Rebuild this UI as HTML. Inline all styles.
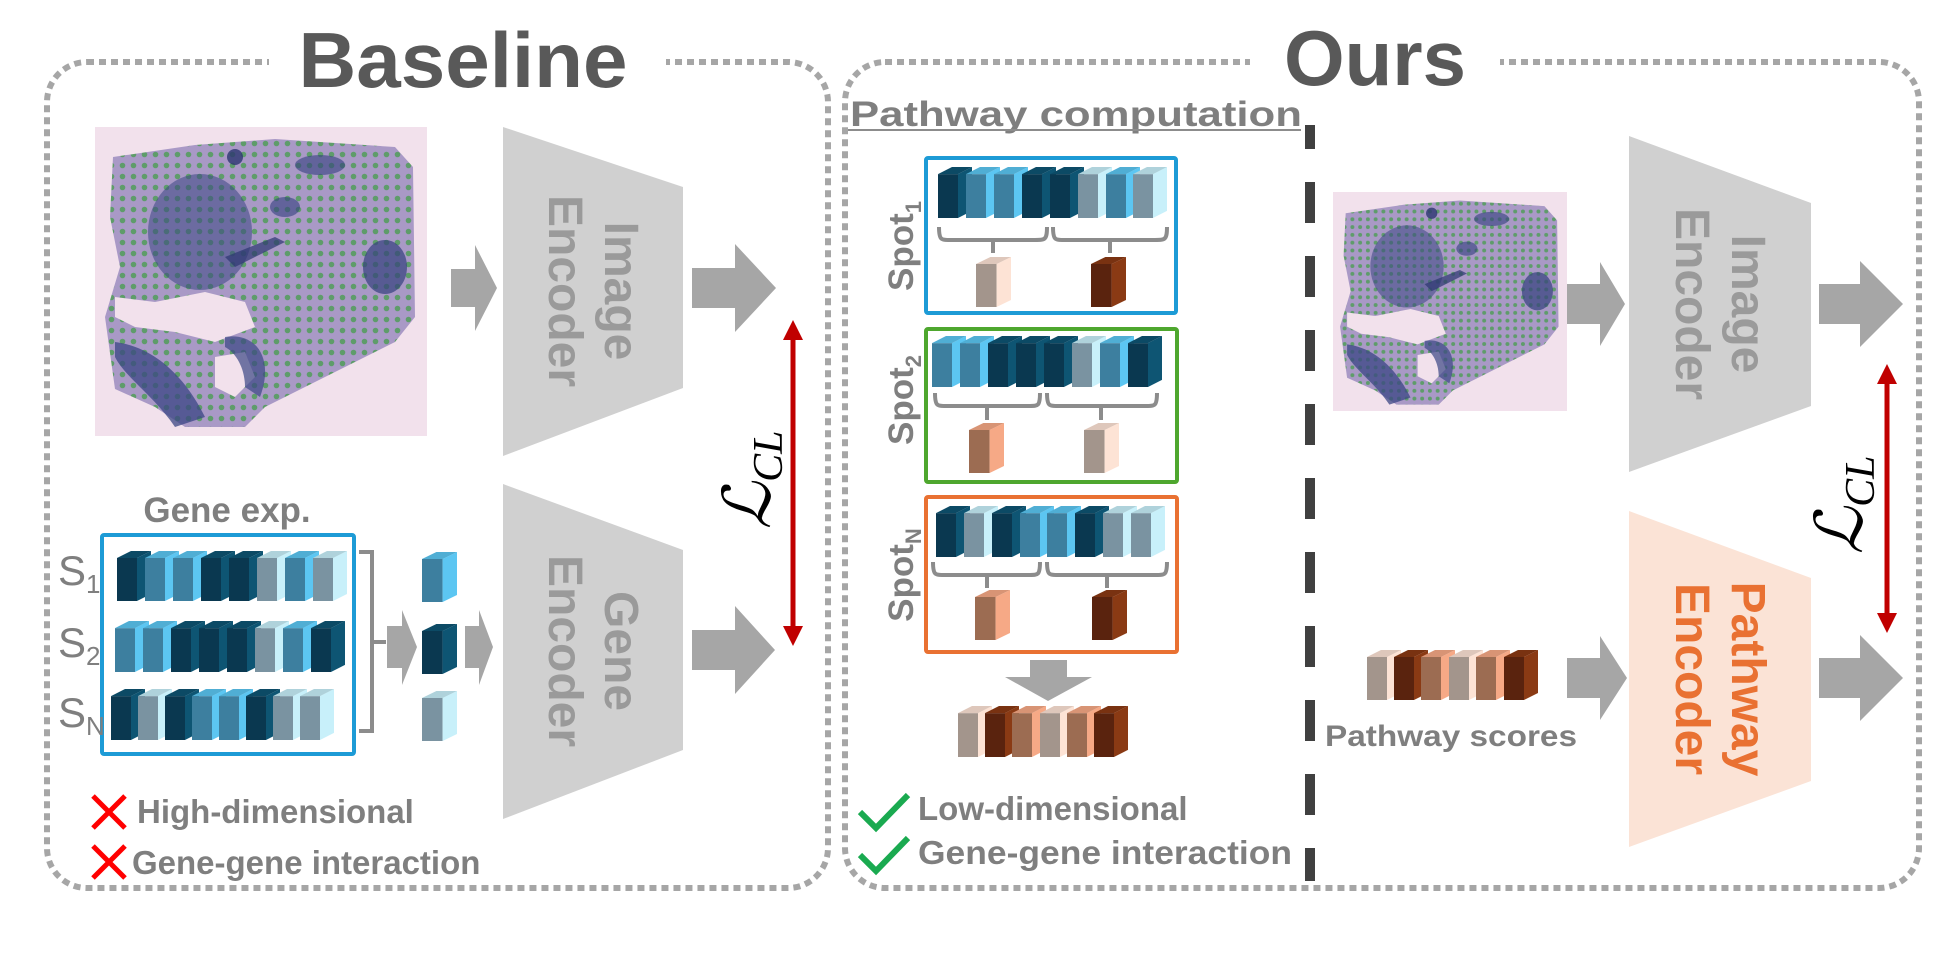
<!DOCTYPE html>
<html><head><meta charset="utf-8"><style>
html,body{margin:0;padding:0;background:#fff;width:1944px;height:968px;overflow:hidden}
svg{display:block}
text{font-family:"Liberation Sans",sans-serif}
</style></head><body>
<svg width="1944" height="968" viewBox="0 0 1944 968" xmlns="http://www.w3.org/2000/svg">
<defs>
<symbol id="cube" viewBox="0 0 34 50" preserveAspectRatio="none">
<rect x="0" y="7" width="20" height="43"/>
<polygon points="20,7 34,0 34,43 20,50" fill="currentColor"/>
<polygon points="0,7 14,0 34,0 20,7" fill="currentColor"/>
<polygon points="0,7 14,0 34,0 20,7" fill="#000" opacity="0.12"/>
</symbol>
<pattern id="dots" width="11" height="11" patternUnits="userSpaceOnUse">
<rect width="11" height="11" fill="#a999c6"/>
<circle cx="5.5" cy="5.5" r="2.8" fill="#5e9c6a"/>
</pattern>
<symbol id="histo" viewBox="0 0 332 309" preserveAspectRatio="none">
<rect width="332" height="309" fill="#f2e1ec"/>
<polygon points="18,30 100,18 180,12 300,20 318,40 320,190 300,215 250,240 200,265 170,280 150,300 90,300 60,280 20,262 10,190 25,140 15,90" fill="url(#dots)"/>
<polygon points="20,170 60,175 110,165 150,175 160,200 120,215 80,205 40,200 20,190" fill="#f2e1ec"/>
<polygon points="120,230 150,225 160,250 140,270 120,260" fill="#f2e1ec"/>
<ellipse cx="105" cy="105" rx="52" ry="58" fill="#3b4684" opacity="0.55"/>
<ellipse cx="290" cy="140" rx="22" ry="27" fill="#34407e" opacity="0.7"/>
<ellipse cx="225" cy="38" rx="25" ry="10" fill="#34407e" opacity="0.6"/>
<ellipse cx="140" cy="30" rx="8" ry="8" fill="#2c3670" opacity="0.8"/>
<ellipse cx="190" cy="80" rx="15" ry="10" fill="#34407e" opacity="0.6"/>
<path d="M20,215 C60,220 90,250 110,290 L80,300 C60,270 30,250 20,230Z" fill="#3b4684" opacity="0.75"/>
<path d="M130,210 C160,205 180,230 165,270 L150,260 C150,240 140,225 130,220Z" fill="#3b4684" opacity="0.7"/>
<path d="M130,130 L180,110 L190,115 L140,140Z" fill="#2c3670" opacity="0.7"/>
</symbol>
</defs>

<!-- dotted boxes -->
<rect x="47" y="62" width="781" height="826" rx="40" fill="none" stroke="#a6a6a6" stroke-width="6" stroke-dasharray="7 5"/>
<rect x="845" y="62" width="1074" height="826" rx="40" fill="none" stroke="#a6a6a6" stroke-width="6" stroke-dasharray="7 5"/>
<rect x="269" y="40" width="397" height="40" fill="#fff"/>
<rect x="1250" y="40" width="250" height="40" fill="#fff"/>
<text x="463" y="87" text-anchor="middle" font-size="78" font-weight="bold" fill="#595959" textLength="329" lengthAdjust="spacingAndGlyphs">Baseline</text>
<text x="1375" y="85" text-anchor="middle" font-size="78" font-weight="bold" fill="#595959" textLength="182" lengthAdjust="spacingAndGlyphs">Ours</text>

<!-- Baseline -->
<use href="#histo" x="95" y="127" width="332" height="309"/>
<polygon points="503,127 683,187 683,388 503,456" fill="#d0d0d0"/>
<polygon points="503,484 683,550 683,750 503,819" fill="#d0d0d0"/>
<g font-size="48" font-weight="bold" fill="#9a9a9a" text-anchor="middle">
<text transform="translate(593,291) rotate(90)"><tspan x="0" y="-12">Image</tspan><tspan x="0" y="44">Encoder</tspan></text>
<text transform="translate(593,651) rotate(90)"><tspan x="0" y="-12">Gene</tspan><tspan x="0" y="44">Encoder</tspan></text>
</g>
<g fill="#a6a6a6">
<polygon points="451,269 475,269 475,245 497,288 475,331 475,307 451,307"/>
<polygon points="692,268 735,268 735,244 776,288 735,332 735,308 692,308"/>
<polygon points="387,626 402,626 402,610 417,647 402,685 402,668 387,668"/>
<polygon points="465,626 479,626 479,610 493,647 479,685 479,668 465,668"/>
<polygon points="692,630 735,630 735,606 775,650 735,694 735,670 692,670"/>
</g>
<!-- red arrow -->
<g stroke="#c00000" fill="#c00000">
<line x1="793" y1="334" x2="793" y2="632" stroke-width="5"/>
<polygon points="793,320 783,340 803,340" stroke="none"/>
<polygon points="793,646 783,626 803,626" stroke="none"/>
<line x1="1887" y1="378" x2="1887" y2="619" stroke-width="5"/>
<polygon points="1887,364 1877,384 1897,384" stroke="none"/>
<polygon points="1887,633 1877,613 1897,613" stroke="none"/>
</g>
<text transform="translate(770,480) rotate(-90)" text-anchor="middle" font-family="'DejaVu Serif','Liberation Serif',serif" font-style="italic" font-size="66" fill="#000">ℒ<tspan font-family="'Liberation Serif',serif" font-size="42" dy="12">CL</tspan></text>
<text transform="translate(1862,505) rotate(-90)" text-anchor="middle" font-family="'DejaVu Serif','Liberation Serif',serif" font-style="italic" font-size="66" fill="#000">ℒ<tspan font-family="'Liberation Serif',serif" font-size="42" dy="12">CL</tspan></text>

<text x="227" y="522" text-anchor="middle" font-size="35" font-weight="bold" fill="#7f7f7f">Gene exp.</text>
<rect x="102" y="535" width="252" height="219" fill="none" stroke="#1d9bd6" stroke-width="4" rx="2"/>
<g font-size="42" fill="#7f7f7f">
<text x="58" y="585">S<tspan font-size="26" dy="8">1</tspan></text>
<text x="58" y="657">S<tspan font-size="26" dy="8">2</tspan></text>
<text x="58" y="727">S<tspan font-size="26" dy="8">N</tspan></text>
</g>
<path d="M359,552 H372 V731 H359 M372,642 H386" fill="none" stroke="#8c8c8c" stroke-width="4"/>
<!-- gene rows: D fill #0a3850 col #0e5573; M #3d7f9f/#5cc6f2; L #7a93a1/#c8f0fa -->
<g>
<use href="#cube" x="117" y="551" width="34" height="50" fill="#0a3850" color="#0e5573"/>
<use href="#cube" x="145" y="551" width="34" height="50" fill="#3d7f9f" color="#5cc6f2"/>
<use href="#cube" x="173" y="551" width="34" height="50" fill="#3d7f9f" color="#5cc6f2"/>
<use href="#cube" x="201" y="551" width="34" height="50" fill="#0a3850" color="#0e5573"/>
<use href="#cube" x="229" y="551" width="34" height="50" fill="#0a3850" color="#0e5573"/>
<use href="#cube" x="257" y="551" width="34" height="50" fill="#7a93a1" color="#c8f0fa"/>
<use href="#cube" x="285" y="551" width="34" height="50" fill="#3d7f9f" color="#5cc6f2"/>
<use href="#cube" x="313" y="551" width="34" height="50" fill="#7a93a1" color="#c8f0fa"/>

<use href="#cube" x="115" y="621" width="34" height="51" fill="#3d7f9f" color="#5cc6f2"/>
<use href="#cube" x="143" y="621" width="34" height="51" fill="#3d7f9f" color="#5cc6f2"/>
<use href="#cube" x="171" y="621" width="34" height="51" fill="#0a3850" color="#0e5573"/>
<use href="#cube" x="199" y="621" width="34" height="51" fill="#0a3850" color="#0e5573"/>
<use href="#cube" x="227" y="621" width="34" height="51" fill="#0a3850" color="#0e5573"/>
<use href="#cube" x="255" y="621" width="34" height="51" fill="#7a93a1" color="#c8f0fa"/>
<use href="#cube" x="283" y="621" width="34" height="51" fill="#3d7f9f" color="#5cc6f2"/>
<use href="#cube" x="311" y="621" width="34" height="51" fill="#0a3850" color="#0e5573"/>

<use href="#cube" x="111" y="689" width="34" height="51" fill="#0a3850" color="#0e5573"/>
<use href="#cube" x="138" y="689" width="34" height="51" fill="#7a93a1" color="#c8f0fa"/>
<use href="#cube" x="165" y="689" width="34" height="51" fill="#0a3850" color="#0e5573"/>
<use href="#cube" x="192" y="689" width="34" height="51" fill="#3d7f9f" color="#5cc6f2"/>
<use href="#cube" x="219" y="689" width="34" height="51" fill="#3d7f9f" color="#5cc6f2"/>
<use href="#cube" x="246" y="689" width="34" height="51" fill="#0a3850" color="#0e5573"/>
<use href="#cube" x="273" y="689" width="34" height="51" fill="#7a93a1" color="#c8f0fa"/>
<use href="#cube" x="300" y="689" width="34" height="51" fill="#7a93a1" color="#c8f0fa"/>

<use href="#cube" x="422" y="552" width="35" height="50" fill="#3d7f9f" color="#5cc6f2"/>
<use href="#cube" x="422" y="624" width="35" height="50" fill="#0a3850" color="#0e5573"/>
<use href="#cube" x="422" y="691" width="35" height="50" fill="#7a93a1" color="#c8f0fa"/>
</g>
<g stroke="#ff0000" stroke-width="5">
<path d="M93,796 L125,828 M125,796 L93,828"/>
<path d="M93,846 L125,878 M125,846 L93,878"/>
</g>
<text x="137" y="823" font-size="33" font-weight="bold" fill="#7f7f7f">High-dimensional</text>
<text x="132" y="874" font-size="33" font-weight="bold" fill="#7f7f7f">Gene-gene interaction</text>

<!-- Pathway computation -->
<text x="850" y="126" font-size="35" font-weight="bold" fill="#7f7f7f" textLength="452" lengthAdjust="spacingAndGlyphs">Pathway computation</text>
<line x1="848" y1="130" x2="1301" y2="130" stroke="#8c8c8c" stroke-width="2"/>
<line x1="1310" y1="125" x2="1310" y2="881" stroke="#404040" stroke-width="10" stroke-dasharray="41 33" stroke-dashoffset="17"/>

<rect x="926" y="158" width="250" height="155" fill="none" stroke="#1d9bd6" stroke-width="4" rx="2"/>
<rect x="926" y="329" width="251" height="153" fill="none" stroke="#4ea72e" stroke-width="4" rx="2"/>
<rect x="926" y="497" width="251" height="155" fill="none" stroke="#e97132" stroke-width="4" rx="2"/>
<g font-size="35" font-weight="bold" fill="#7f7f7f" text-anchor="middle">
<text transform="translate(913,246) rotate(-90)">Spot<tspan font-size="22" dy="8">1</tspan></text>
<text transform="translate(913,400) rotate(-90)">Spot<tspan font-size="22" dy="8">2</tspan></text>
<text transform="translate(913,575) rotate(-90)">Spot<tspan font-size="22" dy="8">N</tspan></text>
</g>
<g>
<use href="#cube" x="938" y="167" width="34" height="51" fill="#0a3850" color="#0e5573"/>
<use href="#cube" x="966" y="167" width="34" height="51" fill="#3d7f9f" color="#5cc6f2"/>
<use href="#cube" x="994" y="167" width="34" height="51" fill="#3d7f9f" color="#5cc6f2"/>
<use href="#cube" x="1022" y="167" width="34" height="51" fill="#0a3850" color="#0e5573"/>
<use href="#cube" x="1050" y="167" width="34" height="51" fill="#0a3850" color="#0e5573"/>
<use href="#cube" x="1078" y="167" width="34" height="51" fill="#7a93a1" color="#c8f0fa"/>
<use href="#cube" x="1106" y="167" width="34" height="51" fill="#3d7f9f" color="#5cc6f2"/>
<use href="#cube" x="1133" y="167" width="34" height="51" fill="#7a93a1" color="#c8f0fa"/>

<use href="#cube" x="932" y="336" width="34" height="51" fill="#3d7f9f" color="#5cc6f2"/>
<use href="#cube" x="960" y="336" width="34" height="51" fill="#3d7f9f" color="#5cc6f2"/>
<use href="#cube" x="988" y="336" width="34" height="51" fill="#0a3850" color="#0e5573"/>
<use href="#cube" x="1016" y="336" width="34" height="51" fill="#0a3850" color="#0e5573"/>
<use href="#cube" x="1044" y="336" width="34" height="51" fill="#0a3850" color="#0e5573"/>
<use href="#cube" x="1072" y="336" width="34" height="51" fill="#7a93a1" color="#c8f0fa"/>
<use href="#cube" x="1100" y="336" width="34" height="51" fill="#3d7f9f" color="#5cc6f2"/>
<use href="#cube" x="1128" y="336" width="34" height="51" fill="#0a3850" color="#0e5573"/>

<use href="#cube" x="936" y="506" width="34" height="51" fill="#0a3850" color="#0e5573"/>
<use href="#cube" x="964" y="506" width="34" height="51" fill="#7a93a1" color="#c8f0fa"/>
<use href="#cube" x="992" y="506" width="34" height="51" fill="#0a3850" color="#0e5573"/>
<use href="#cube" x="1020" y="506" width="34" height="51" fill="#3d7f9f" color="#5cc6f2"/>
<use href="#cube" x="1047" y="506" width="34" height="51" fill="#3d7f9f" color="#5cc6f2"/>
<use href="#cube" x="1075" y="506" width="34" height="51" fill="#0a3850" color="#0e5573"/>
<use href="#cube" x="1103" y="506" width="34" height="51" fill="#7a93a1" color="#c8f0fa"/>
<use href="#cube" x="1131" y="506" width="34" height="51" fill="#7a93a1" color="#c8f0fa"/>
</g>
<g fill="none" stroke="#8c8c8c" stroke-width="4">
<path d="M939,227 C939,240 941,240 950,240 H1035 C1045,240 1047,240 1047,227 M993,240 V253"/>
<path d="M1053,227 C1053,240 1055,240 1064,240 H1155 C1165,240 1167,240 1167,227 M1110,240 V253"/>
<path d="M935,393 C935,406 937,406 946,406 H1030 C1038,406 1040,406 1040,393 M987,406 V420"/>
<path d="M1047,393 C1047,406 1049,406 1058,406 H1146 C1155,406 1157,406 1157,393 M1101,406 V420"/>
<path d="M933,562 C933,575 935,575 944,575 H1030 C1038,575 1040,575 1040,562 M987,575 V588"/>
<path d="M1047,562 C1047,575 1049,575 1058,575 H1156 C1165,575 1167,575 1167,562 M1107,575 V588"/>
</g>
<!-- brown: Lb #a3958c/#fde3d5  Db #5a230e/#8a3a14  Mb #9c6c52/#f6a986 -->
<g>
<use href="#cube" x="976" y="257" width="35" height="50" fill="#a3958c" color="#fde3d5"/>
<use href="#cube" x="1091" y="257" width="35" height="50" fill="#5a230e" color="#8a3a14"/>
<use href="#cube" x="969" y="423" width="35" height="50" fill="#9c6c52" color="#f6a986"/>
<use href="#cube" x="1084" y="423" width="35" height="50" fill="#a3958c" color="#fde3d5"/>
<use href="#cube" x="975" y="590" width="35" height="50" fill="#9c6c52" color="#f6a986"/>
<use href="#cube" x="1092" y="590" width="35" height="50" fill="#5a230e" color="#8a3a14"/>

<use href="#cube" x="958" y="706" width="34" height="51" fill="#a3958c" color="#fde3d5"/>
<use href="#cube" x="985" y="706" width="34" height="51" fill="#5a230e" color="#8a3a14"/>
<use href="#cube" x="1012" y="706" width="34" height="51" fill="#9c6c52" color="#f6a986"/>
<use href="#cube" x="1040" y="706" width="34" height="51" fill="#a3958c" color="#fde3d5"/>
<use href="#cube" x="1067" y="706" width="34" height="51" fill="#9c6c52" color="#f6a986"/>
<use href="#cube" x="1094" y="706" width="34" height="51" fill="#5a230e" color="#8a3a14"/>

<use href="#cube" x="1367" y="650" width="34" height="50" fill="#a3958c" color="#fde3d5"/>
<use href="#cube" x="1394" y="650" width="34" height="50" fill="#5a230e" color="#8a3a14"/>
<use href="#cube" x="1421" y="650" width="34" height="50" fill="#9c6c52" color="#f6a986"/>
<use href="#cube" x="1449" y="650" width="34" height="50" fill="#a3958c" color="#fde3d5"/>
<use href="#cube" x="1476" y="650" width="34" height="50" fill="#9c6c52" color="#f6a986"/>
<use href="#cube" x="1504" y="650" width="34" height="50" fill="#5a230e" color="#8a3a14"/>
</g>
<polygon points="1030,660 1067,660 1067,677 1092,677 1048,701 1005,677 1030,677" fill="#a6a6a6"/>
<g fill="none" stroke="#1aaa50" stroke-width="6">
<path d="M860,812 L876,828 L908,795"/>
<path d="M860,855 L876,871 L908,838"/>
</g>
<text x="918" y="820" font-size="33" font-weight="bold" fill="#7f7f7f">Low-dimensional</text>
<text x="918" y="864" font-size="33" font-weight="bold" fill="#7f7f7f" textLength="374" lengthAdjust="spacingAndGlyphs">Gene-gene interaction</text>

<!-- Right -->
<use href="#histo" x="1333" y="192" width="234" height="219"/>
<polygon points="1629,136 1811,203 1811,406 1629,472" fill="#d0d0d0"/>
<polygon points="1629,511 1811,578 1811,781 1629,847" fill="#fbe3d6"/>
<g font-size="48" font-weight="bold" text-anchor="middle">
<text transform="translate(1720,304) rotate(90)" fill="#9a9a9a"><tspan x="0" y="-12">Image</tspan><tspan x="0" y="44">Encoder</tspan></text>
<text transform="translate(1720,679) rotate(90)" fill="#e97132"><tspan x="0" y="-12">Pathway</tspan><tspan x="0" y="44">Encoder</tspan></text>
</g>
<g fill="#a6a6a6">
<polygon points="1567,284 1600,284 1600,262 1625,304 1600,346 1600,324 1567,324"/>
<polygon points="1819,284 1860,284 1860,261 1903,304 1860,347 1860,324 1819,324"/>
<polygon points="1567,658 1600,658 1600,636 1627,678 1600,720 1600,698 1567,698"/>
<polygon points="1819,658 1860,658 1860,635 1903,678 1860,721 1860,698 1819,698"/>
</g>
<text x="1325" y="746" font-size="30" font-weight="bold" fill="#7f7f7f" textLength="252" lengthAdjust="spacingAndGlyphs">Pathway scores</text>
</svg>
</body></html>
